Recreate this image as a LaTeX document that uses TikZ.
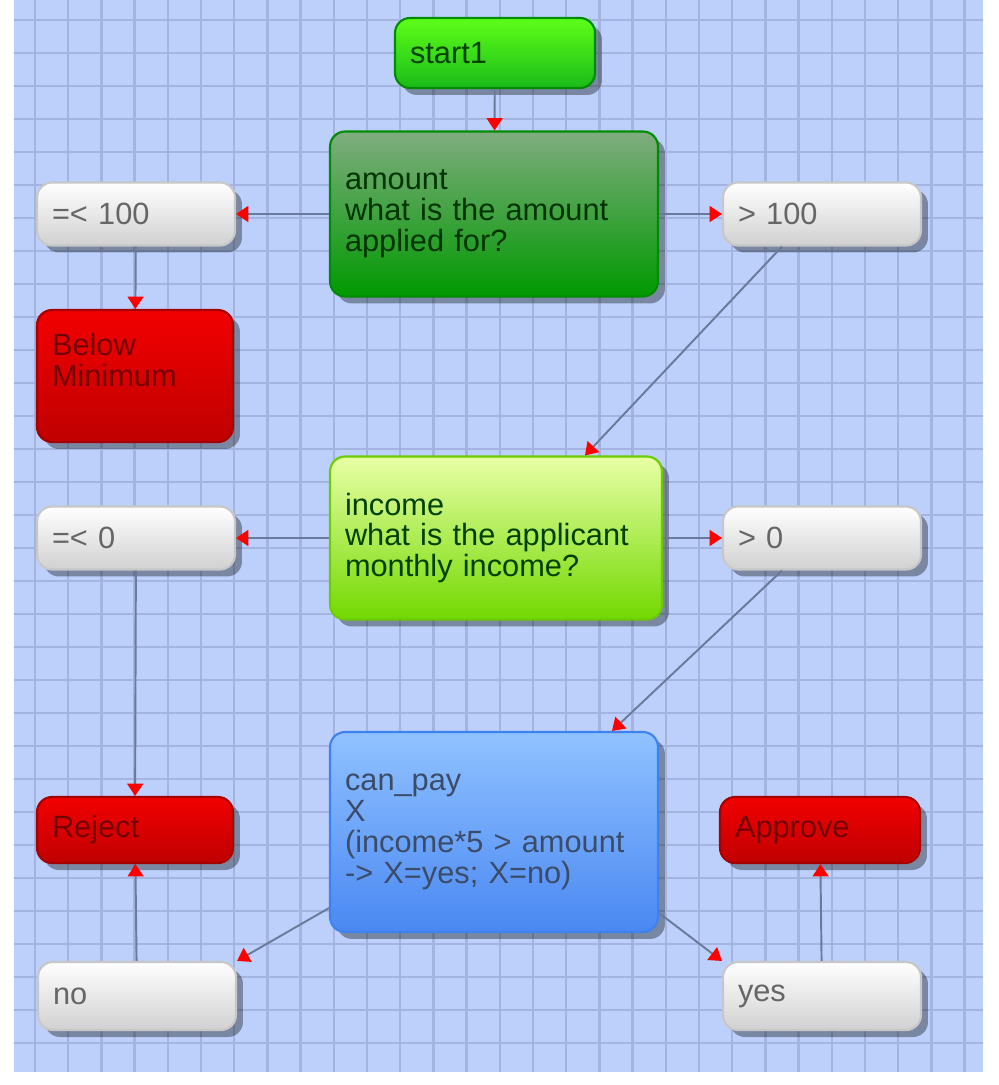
\documentclass[tikz,border=0pt]{standalone}
\usepackage{fontspec}
\setmainfont{Liberation Sans}
\usetikzlibrary{arrows.meta,shadows}
\definecolor{bg}{HTML}{BCD0FB}
\definecolor{gl}{HTML}{A4B4E0}
\definecolor{ln}{HTML}{6A7A9A}
\definecolor{btop}{HTML}{90C2FF}
\definecolor{bbot}{HTML}{4A88F2}
\definecolor{bdr}{HTML}{3E82F0}
\definecolor{btx}{HTML}{3C4C68}
\begin{document}
\begin{tikzpicture}[x=0.02cm,y=-0.02cm,
  box/.style={draw,line width=1.2pt,rounded corners=0.3cm,align=left,inner xsep=0.3cm,inner ysep=0pt,
    font=\fontsize{17.5}{17.6}\selectfont,
    drop shadow={shadow xshift=0.14cm,shadow yshift=-0.14cm,fill=black,opacity=0.35}},
  greybox/.style={box,top color=white,bottom color=black!18,draw=black!22,text=black!60,
    minimum height=1.26cm,text width=3.36cm},
  redbox/.style={box,top color=red!95!black,bottom color=red!75!black,draw=red!65!black,text=red!45!black,text width=3.32cm},
  conn/.style={draw=ln,line width=1.1pt,-{Triangle[color=red,width=9pt,length=7pt]}},
]
\useasboundingbox (0,0) rectangle (998,1085);
\fill[bg] (14,0) rectangle (983,1072);
\foreach \i in {0,...,28} \draw[gl,line width=1.3pt] ({35+33.2*\i},0) -- ({35+33.2*\i},1072);
\foreach \j in {0,...,31} \draw[gl,line width=1.3pt] (14,{20+33*\j}) -- (983,{20+33*\j});

\node[box,top color=green!60!lime!90!white,bottom color=green!70!black!90,draw=green!55!black,text=green!25!black,
  minimum height=1.4cm,text width=3.4cm] (start) at (495,53) {start1};
\node[box,top color=green!35!black!50!white,bottom color=green!60!black,draw=green!55!black,text=green!20!black,
  minimum height=3.3cm,text width=5.96cm] (amount) at (494,214) {amount\\what is the amount\\applied for?};
\node[greybox] (le100) at (136,214) {=< 100};
\node[greybox] (gt100) at (822,214) {> 100};
\node[redbox,minimum height=2.64cm,text depth=1.25cm] (below) at (135,376) {Below\\Minimum};
\node[box,top color=lime!35!white,bottom color=lime!70!green!85!black,draw=lime!70!green!80!black,text=green!25!black,
  minimum height=3.26cm,text width=6.04cm] (income) at (496,538) {income\\what is the applicant\\monthly income?};
\node[greybox] (le0) at (136,538) {=< 0};
\node[greybox] (gt0) at (822,538) {> 0};
\node[box,top color=btop,bottom color=bbot,draw=bdr,text=btx,
  minimum height=4cm,text width=5.96cm] (canpay) at (494,832) {can\_pay\\X\\(income*5 > amount\\-> X=yes; X=no)};
\node[redbox,minimum height=1.32cm] (reject) at (135,830) {Reject};
\node[redbox,minimum height=1.32cm,text width=3.4cm] (approve) at (820,830) {Approve};
\node[greybox,minimum height=1.36cm] (no) at (137,996) {no};
\node[greybox,minimum height=1.36cm] (yes) at (822,996) {yes};

\draw[conn] (start) -- (amount);
\draw[conn] (amount) -- (le100);
\draw[conn] (amount) -- (gt100);
\draw[conn] (le100) -- (below);
\draw[conn] (gt100.south) ++(-40,0) coordinate (a1) (a1) -- (income.north -| 585,0);
\draw[conn] (income) -- (le0);
\draw[conn] (income) -- (gt0);
\draw[conn] (le0) -- (reject);
\draw[conn] (gt0.south) ++(-40,0) coordinate (a2) (a2) -- (canpay.north -| 612,0);
\draw[conn] (canpay.south west) ++(0,-25) coordinate (a3) (a3) -- (no.north east);
\draw[conn] (canpay.south east) ++(0,-20) coordinate (a4) (a4) -- (yes.north west);
\draw[conn] (no) -- (reject);
\draw[conn] (yes) -- (approve);
\end{tikzpicture}
\end{document}
